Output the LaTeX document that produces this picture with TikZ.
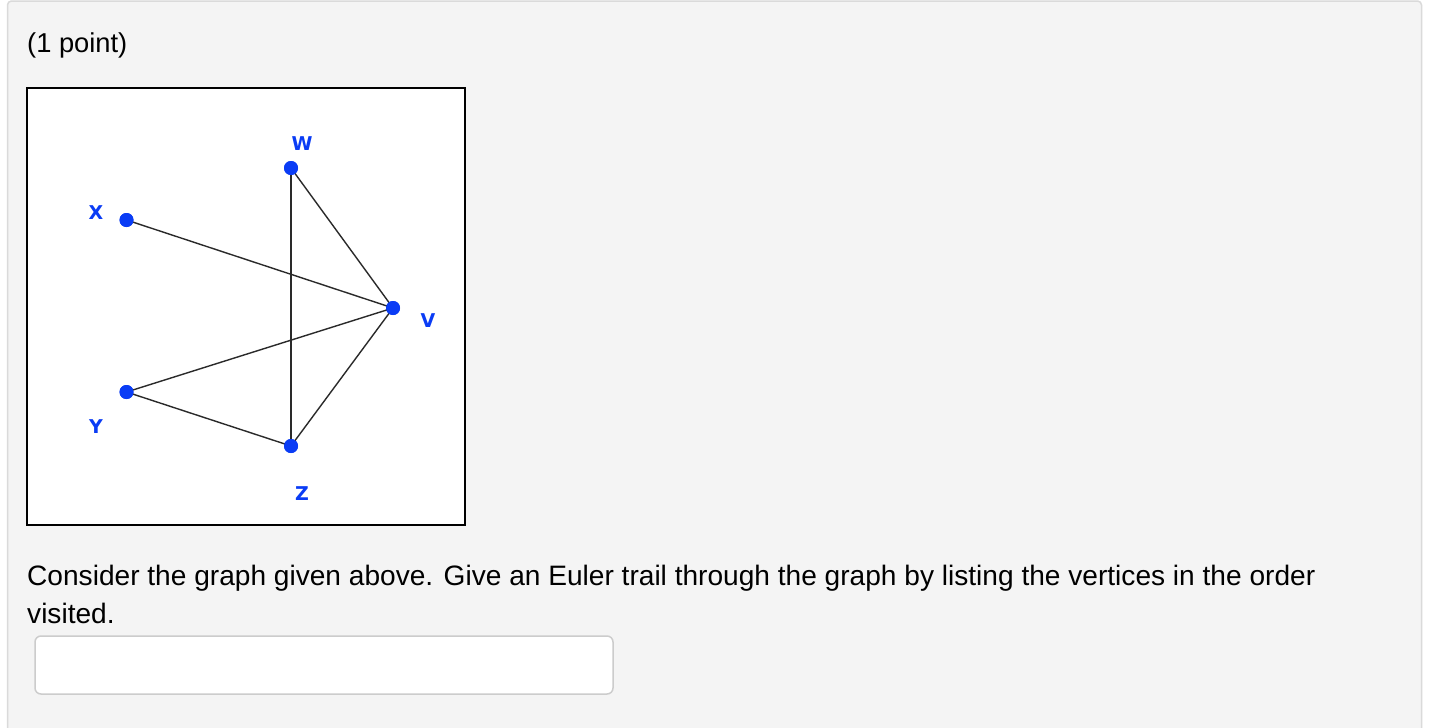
\documentclass[tikz,border=0pt]{standalone}
\usepackage{fontspec}
\setmainfont{Liberation Sans}
\newfontfamily\labfont{DejaVu Sans}
\definecolor{panelbg}{HTML}{F4F4F4}
\definecolor{panelbd}{HTML}{DADADA}
\definecolor{vblue}{HTML}{0A3CF5}
\definecolor{edgec}{HTML}{2A2A2A}
\definecolor{inputbd}{HTML}{CCCCCC}
\tikzset{
  vert/.style={circle,fill=vblue,inner sep=0pt,minimum size=14pt},
  vlabel/.style={text=vblue,font=\labfont\bfseries\fontsize{19}{19}\selectfont,inner sep=0pt},
  edge/.style={draw=edgec,line width=1.4pt},
  bodytext/.style={font=\fontsize{28.1}{38}\selectfont,inner sep=0pt,align=left},
  titletext/.style={font=\fontsize{27.3}{38}\selectfont,inner sep=0pt}
}
\begin{document}
\begin{tikzpicture}[x=1pt,y=-1pt]
\useasboundingbox (0,0) rectangle (1448,728);
\fill[white] (0,0) rectangle (1448,728);
% panel
\draw[panelbd,fill=panelbg,line width=1.5pt,rounded corners=4pt] (7.5,1) rectangle (1421.5,745);
% title
\node[titletext,anchor=base west] (title) at (27,52) {(1 point)};
% graph frame
\draw[black,fill=white,line width=1.6pt] (27,88) rectangle (465,525);
% vertices
\node[vert] (W) at (291,168) {};
\node[vert] (X) at (126.5,220) {};
\node[vert] (V) at (393,308) {};
\node[vert] (Y) at (126.5,392) {};
\node[vert] (Z) at (291,446) {};
% edges
\draw[edge] (W.center) -- (Z.center);
\draw[edge] (W.center) -- (V.center);
\draw[edge] (X.center) -- (V.center);
\draw[edge] (Y.center) -- (V.center);
\draw[edge] (Y.center) -- (Z.center);
\draw[edge] (Z.center) -- (V.center);
% vertex dots drawn again over the edges
\foreach \n in {W,X,V,Y,Z}
  \fill[vblue] (\n.center) circle (7pt);
% labels
\node[vlabel] (lW) at (302,144) {W};
\node[vlabel] (lX) at (96,213) {X};
\node[vlabel] (lV) at (428,321) {V};
\node[vlabel] (lY) at (96,427) {Y};
\node[vlabel] (lZ) at (302,494) {Z};
% question text
\node[bodytext,anchor=base west] (q1) at (27,585) {Consider the graph given above. Give an Euler trail through the graph by listing the vertices in the order};
\node[bodytext,anchor=base west] (q2) at (27,623) {visited.};
% input box
\draw[inputbd,fill=white,line width=1.5pt,rounded corners=6pt] (35,636) rectangle (613,694);
\end{tikzpicture}
\end{document}
